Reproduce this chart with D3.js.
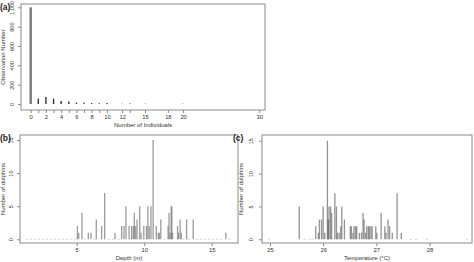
<!DOCTYPE html>
<html><head><meta charset="utf-8">
<script src="https://cdn.jsdelivr.net/npm/d3@7"></script>
<style>
html,body{margin:0;padding:0;background:#fff;}
svg{display:block;font-family:"Liberation Sans",Arial,sans-serif;}
</style></head>
<body>
<svg id="c" width="474" height="262"></svg>
<script>
// (a) Observation number vs number of individuals
const indivX = [0,1,2,3,4,5,6,7,8,9,10,12,13,15,18,20,30];
const indivObs = [1000,56,72,55,32,26,15,12,10,8,10,3,4,3,1,3,1];
const indivTicks = [0,1,2,3,4,5,6,7,8,9,10,12,13,15,18,20,30];
const indivLabels = [0,2,4,6,8,10,12,15,18,20,30];
const obsTicks = [0,200,400,600,800,1000];

// (b) Number of dolphins vs depth (m)
const depthVals = [5.05,5.15,5.39,5.86,6.06,6.45,6.85,7.07,7.84,8.33,8.5,8.65,8.88,9.07,9.2,9.27,9.37,9.47,9.67,9.77,9.97,10.17,10.27,10.37,10.5,10.66,10.9,11.05,11.12,11.23,11.77,11.84,11.92,12.0,12.05,12.1,12.47,12.55,12.66,12.75,13.14,13.63,16.05];
const depthCounts = [2,1,4,1,1,3,2,7,1,2,2,5,2,2,2,4,2,3,5,1,2,2,5,2,5,15,2,1,1,3,2,4,1,5,5,1,2,1,3,1,3,3,1];
const depthZeros = [1.3,1.6,1.9,2.2,2.5,2.8,3.1,3.4,3.7,4.0,4.3,4.6,4.9,5.6,6.3,7.4,7.7,8.1,11.5,12.9,13.3,13.9,14.2,14.5,14.8,15.1,15.4,15.7,16.3];
const depthTicks = [5,10,15];

// (c) Number of dolphins vs temperature (°C)
const tempVals = [25.55,25.86,25.91,25.93,25.97,26.0,26.03,26.08,26.09,26.1,26.11,26.14,26.16,26.22,26.25,26.27,26.3,26.33,26.35,26.4,26.51,26.53,26.56,26.58,26.61,26.63,26.68,26.72,26.75,26.77,26.8,26.82,26.85,26.87,26.9,26.92,26.99,27.01,27.09,27.16,27.18,27.22,27.25,27.3,27.39,27.47];
const tempCounts = [5,2,1,3,3,5,1,15,3,3,5,5,4,7,5,1,1,2,5,3,2,2,1,2,2,2,1,1,4,3,1,2,2,2,2,2,2,1,4,2,1,3,2,1,7,1];
const tempZeros = [24.98,25.65,25.75,25.8,27.65,27.75,27.95,28.7];
const tempTicks = [25,26,27,28];

const countTicks = [0,5,10,15];

const svg = d3.select("#c");
const txt = "#333", boxCol = "#8a8a8a";

function panel(o){
  const g = svg.append("g");
  const x = d3.scaleLinear().domain(o.xd).range(o.xr);
  const y = d3.scaleLinear().domain(o.yd).range(o.yr);
  g.append("rect").attr("x",o.box[0]).attr("y",o.box[1])
    .attr("width",o.box[2]-o.box[0]).attr("height",o.box[3]-o.box[1])
    .attr("fill","none").attr("stroke",boxCol).attr("stroke-width",1);
  const xa = d3.axisBottom(x).tickValues(o.xTicks).tickSize(3).tickFormat(d=>o.xLabels.includes(d)?d:"");
  const gx = g.append("g").attr("transform",`translate(0,${o.box[3]})`).call(xa);
  gx.select(".domain").remove();
  gx.selectAll("line").attr("stroke",boxCol);
  gx.selectAll("text").attr("fill",txt).attr("font-size",5.8).attr("dy",0).attr("y",9);
  const ya = d3.axisLeft(y).tickValues(o.yTicks).tickSize(3);
  const gy = g.append("g").attr("transform",`translate(${o.box[0]},0)`).call(ya);
  gy.select(".domain").remove();
  gy.selectAll("line").attr("stroke",boxCol);
  gy.selectAll("text").attr("fill",txt).attr("font-size",5.5)
    .attr("x",null).attr("dy",null).attr("text-anchor","middle")
    .attr("transform",`translate(${-o.ytl},0) rotate(-90)`).attr("y",0);
  g.append("text").attr("x",(o.box[0]+o.box[2])/2).attr("y",o.box[3]+17)
    .attr("text-anchor","middle").attr("font-size",6).attr("fill",txt).text(o.xt);
  g.append("text").attr("transform",`translate(${o.box[0]-o.ytt},${(o.box[1]+o.box[3])/2}) rotate(-90)`)
    .attr("text-anchor","middle").attr("font-size",6).attr("fill",txt).text(o.yt);
  g.append("text").attr("x",o.lab[0]).attr("y",o.lab[1]).attr("font-size",8.5)
    .attr("font-weight","bold").attr("fill","#222").text(o.label);
  if(o.zeros){
    g.selectAll(".z").data(o.zeros).join("line")
      .attr("x1",d=>x(d)-1.2).attr("x2",d=>x(d)+1.2)
      .attr("y1",y(0)).attr("y2",y(0)).attr("stroke","#cfcfcf").attr("stroke-width",0.8);
  }
  g.selectAll(".b").data(o.xs).join("line")
    .attr("x1",d=>x(d)).attr("x2",d=>x(d))
    .attr("y1",y(0)).attr("y2",(d,i)=>y(o.ys[i]))
    .attr("stroke",(d,i)=>o.col(i)).attr("stroke-width",(d,i)=>o.w(i))
    .attr("stroke-opacity",o.op||1);
  return {x,y};
}

panel({xd:[0,30],xr:[30.7,259.3],yd:[0,1000],yr:[104,7.3],box:[21,4,265,110],ytl:7.5,ytt:16,
  xTicks:indivTicks,xLabels:indivLabels,yTicks:obsTicks,xt:"Number of Individuals",yt:"Observation Number",
  label:"(a)",lab:[0,10],xs:indivX,ys:indivObs,
  col:i=>i===0?"#777":"#333",w:i=>i===0?2.4:1.4});

panel({xd:[5,15],xr:[76.7,211.7],yd:[0,15],yr:[239.3,140],box:[20,135,238,243],ytl:7,ytt:15,
  xTicks:depthTicks,xLabels:depthTicks,yTicks:countTicks,xt:"Depth (m)",yt:"Number of dolphins",
  label:"(b)",lab:[0,141],xs:depthVals,ys:depthCounts,zeros:depthZeros,
  col:i=>"#7a7a7a",w:i=>1.3,op:0.75});

panel({xd:[25,28],xr:[270,429.5],yd:[0,15],yr:[239.3,140.7],box:[262,135,472,243],ytl:9,ytt:19,
  xTicks:tempTicks,xLabels:tempTicks,yTicks:countTicks,xt:"Temperature (°C)",yt:"Number of dolphins",
  label:"(c)",lab:[233,141],xs:tempVals,ys:tempCounts,zeros:tempZeros,
  col:i=>"#6f6f6f",w:i=>1.3,op:0.75});
</script>
</body></html>
